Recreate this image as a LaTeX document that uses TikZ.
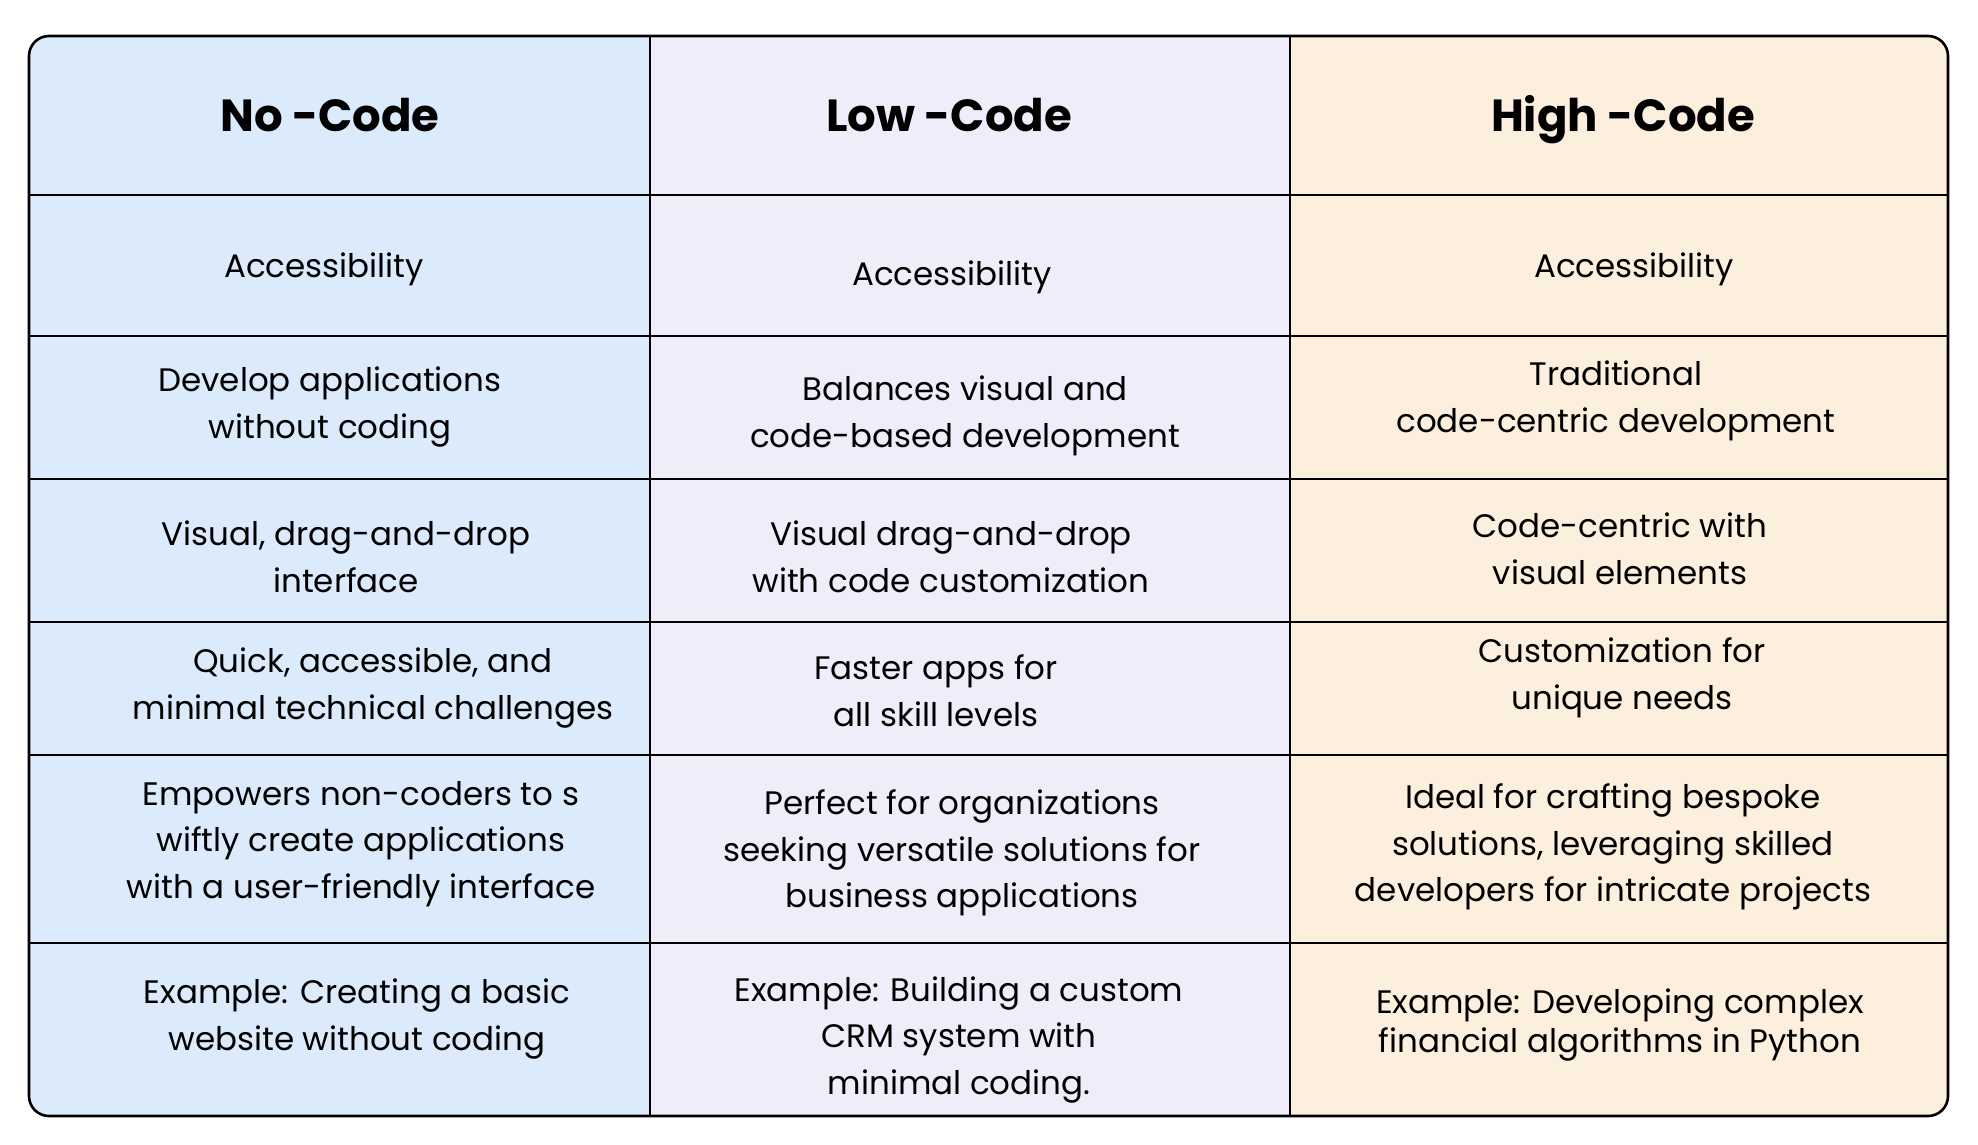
\documentclass[tikz,border=0pt]{standalone}
\usepackage{fontspec}
\setmainfont{Poppins}
\definecolor{nocode}{RGB}{220,235,252}
\definecolor{lowcode}{RGB}{241,236,249}
\definecolor{highcode}{RGB}{252,239,221}
\begin{document}
\begin{tikzpicture}[x=1pt,y=-1pt,
	cell/.style={align=center, inner sep=0pt, font=\fontsize{32.5}{46.7}\selectfont},
	head/.style={anchor=base, inner sep=0pt, font=\fontsize{45}{50}\selectfont\bfseries},
	rule/.style={line width=2pt}]
	\useasboundingbox (0,0) rectangle (1978,1144);
	% column backgrounds
	\begin{scope}
		\clip[rounded corners=20] (29,36) rectangle (1948,1116);
		\fill[nocode] (29,36) rectangle (650,1116);
		\fill[lowcode] (650,36) rectangle (1290,1116);
		\fill[highcode] (1290,36) rectangle (1948,1116);
	\end{scope}
	% grid
	\draw[rule] (650,36) -- (650,1116);
	\draw[rule] (1290,36) -- (1290,1116);
	\draw[rule] (29,195) -- (1948,195);
	\draw[rule] (29,336) -- (1948,336);
	\draw[rule] (29,479) -- (1948,479);
	\draw[rule] (29,622) -- (1948,622);
	\draw[rule] (29,755) -- (1948,755);
	\draw[rule] (29,943) -- (1948,943);
	\draw[line width=2.6pt, rounded corners=20] (29,36) rectangle (1948,1116);
	% headers
	\node[head] (nohead) at (330,131) {No -Code};
	\node[head] (lowhead) at (949,131) {Low -Code};
	\node[head] (highhead) at (1623,131) {High -Code};
	% row 1
	\node[cell] (noacc) at (324,269) {Accessibility};
	\node[cell] (lowacc) at (952,277) {Accessibility};
	\node[cell] (highacc) at (1634,269) {Accessibility};
	% row 2
	\node[cell] (nodev) at (330,407) {Develop applications\\without coding};
	\node[cell] (lowdev) at (965,416) {Balances visual and\\code-based development};
	\node[cell] (highdev) at (1616,401) {Traditional\\code-centric development};
	% row 3
	\node[cell] (noui) at (346,557) {Visual, drag-and-drop\\interface};
	\node[cell] (lowui) at (951,557) {Visual drag-and-drop\\with code customization};
	\node[cell] (highui) at (1620,549) {Code-centric with\\visual elements};
	% row 4
	\node[cell] (nospeed) at (373,688) {Quick, accessible, and\\minimal technical challenges};
	\node[cell] (lowspeed) at (936,691) {Faster apps for\\all skill levels};
	\node[cell] (highspeed) at (1622,678) {Customization for\\unique needs};
	% row 5
	\node[cell] (nouse) at (361,844) {Empowers non-coders to s\\wiftly create applications\\with a user-friendly interface};
	\node[cell] (lowuse) at (962,853) {Perfect for organizations\\seeking versatile solutions for\\business applications};
	\node[cell] (highuse) at (1613,847) {Ideal for crafting bespoke\\solutions, leveraging skilled\\developers for intricate projects};
	% row 6
	\node[cell] (noex) at (357,1019) {Example: Creating a basic\\website without coding};
	\node[cell] (lowex) at (959,1040) {Example: Building a custom\\CRM system with\\minimal coding.};
	\node[cell, font=\fontsize{32.5}{39}\selectfont] (highex) at (1620,1025) {Example: Developing complex\\financial algorithms in Python};
\end{tikzpicture}
\end{document}
